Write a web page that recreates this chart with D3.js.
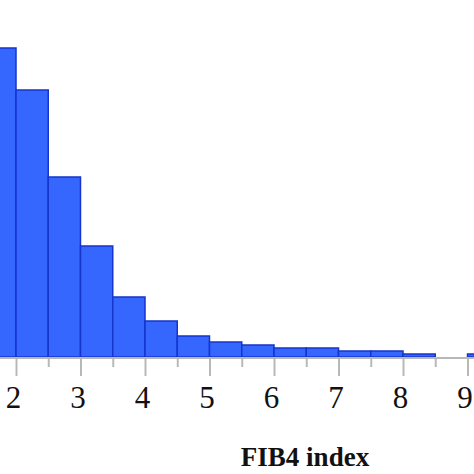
<!DOCTYPE html>
<html>
<head>
<meta charset="utf-8">
<script src="https://cdn.jsdelivr.net/npm/d3@7"></script>
<style>
  html, body { margin: 0; padding: 0; background: #fff; }
  svg { display: block; }
</style>
</head>
<body>
<div id="chart"></div>
<script>
// histogram bins of FIB4 index (bin width 0.5), counts
var binStarts = [1.5, 2, 2.5, 3, 3.5, 4, 4.5, 5, 5.5, 6, 6.5, 7, 7.5, 8, 8.5, 9];
var counts    = [103, 89, 60, 37, 20, 12, 7, 5, 4, 3, 3, 2, 2, 1, 0, 1];
var binWidth = 0.5;
var majorTicks = [2, 3, 4, 5, 6, 7, 8, 9];
var minorTicks = [2.5, 3.5, 4.5, 5.5, 6.5, 7.5, 8.5];
var xTitle = "FIB4 index";

var W = 474, H = 474;
var baseY = 357;

var svg = d3.select("#chart")
    .append("svg")
    .attr("width", W)
    .attr("height", H);

var x = d3.scaleLinear().domain([2, 9]).range([16, 467.5]);
var y = d3.scaleLinear().domain([0, 103]).range([baseY, 48]);

// bars
svg.selectAll("rect.bar")
    .data(binStarts)
    .enter()
    .append("rect")
    .attr("class", "bar")
    .attr("x", function (d) { return x(d); })
    .attr("width", function (d) { return x(d + binWidth) - x(d); })
    .attr("y", function (d, i) { return y(counts[i]); })
    .attr("height", function (d, i) { return baseY - y(counts[i]); })
    .attr("fill", function (d, i) { return counts[i] > 0 ? "#3566fd" : "none"; })
    .attr("stroke", function (d, i) { return counts[i] > 0 ? "#1535cc" : "none"; })
    .attr("stroke-width", 1.5);

// axis line across the whole width
svg.append("line")
    .attr("x1", 0).attr("x2", W)
    .attr("y1", baseY + 1).attr("y2", baseY + 1)
    .attr("stroke", "#b8b8b8")
    .attr("stroke-width", 2);

// major ticks + labels
var majorAxis = svg.append("g")
    .attr("transform", "translate(0," + (baseY + 1) + ")")
    .call(d3.axisBottom(x).tickValues(majorTicks).tickSize(18).tickPadding(10)
        .tickFormat(d3.format("d")));
majorAxis.select(".domain").remove();
majorAxis.selectAll(".tick line")
    .attr("stroke", "#b8b8b8")
    .attr("stroke-width", 2);
majorAxis.selectAll(".tick text")
    .attr("font-family", "'Liberation Serif', 'Times New Roman', serif")
    .attr("font-size", 31)
    .attr("fill", "#111")
    .attr("dx", -3);

// minor ticks
var minorAxis = svg.append("g")
    .attr("transform", "translate(0," + (baseY + 1) + ")")
    .call(d3.axisBottom(x).tickValues(minorTicks).tickSize(9).tickFormat(""));
minorAxis.select(".domain").remove();
minorAxis.selectAll(".tick line")
    .attr("stroke", "#b8b8b8")
    .attr("stroke-width", 2);

// axis title
svg.append("text")
    .attr("x", 305)
    .attr("y", 466)
    .attr("text-anchor", "middle")
    .attr("font-family", "'Liberation Serif', 'Times New Roman', serif")
    .attr("font-weight", "bold")
    .attr("font-size", 27)
    .attr("fill", "#111")
    .text(xTitle);
</script>
</body>
</html>
